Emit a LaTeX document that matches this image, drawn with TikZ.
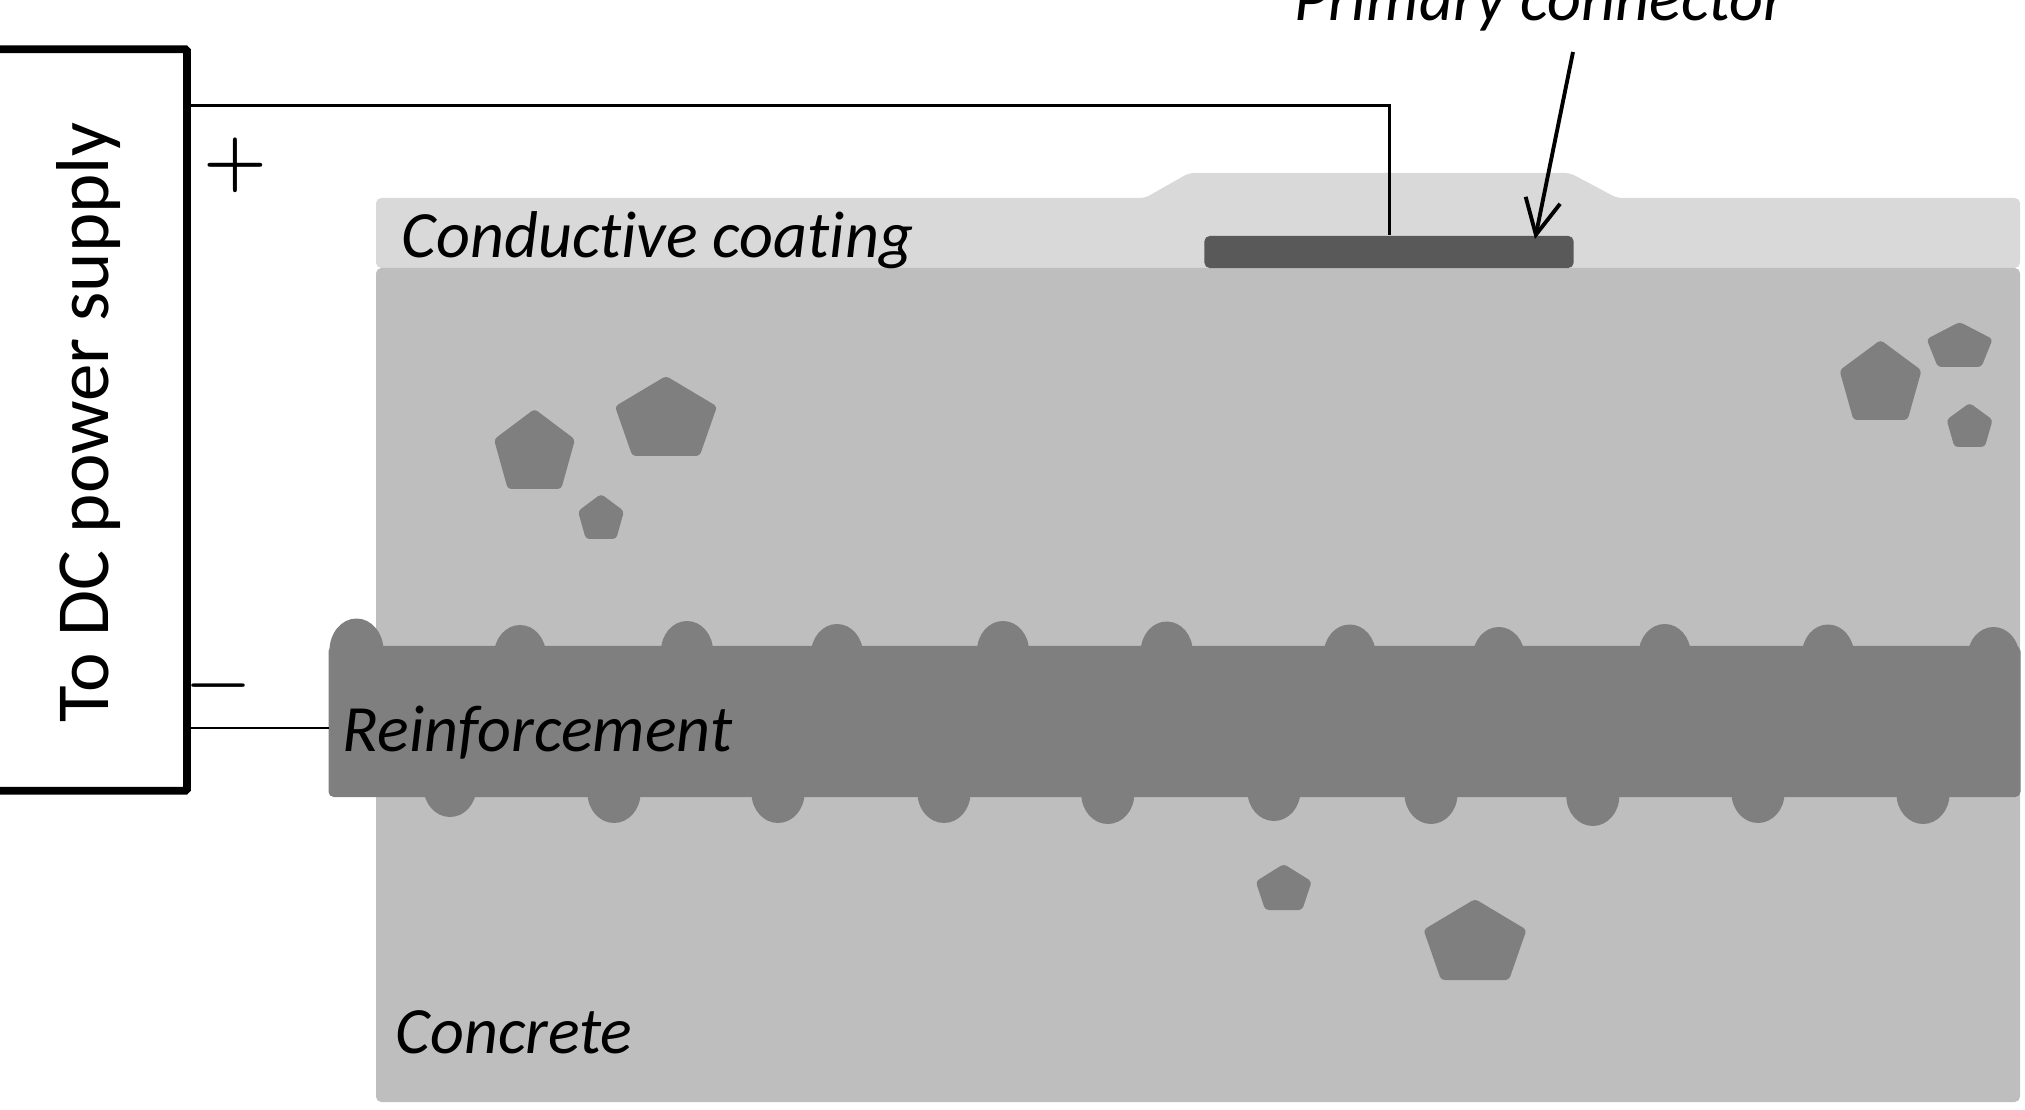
\documentclass[tikz,border=0pt]{standalone}
\usepackage{fontspec}
\setmainfont{Carlito}[Ligatures=NoCommon]
\usetikzlibrary{arrows.meta}
\definecolor{coatinggray}{HTML}{D9D9D9}
\definecolor{concretegray}{HTML}{BEBEBE}
\definecolor{steelgray}{HTML}{7F7F7F}
\definecolor{connectorgray}{HTML}{595959}
\tikzset{
	label/.style={font=\fontsize{18.8}{22}\selectfont\itshape, inner sep=0pt, anchor=base west},
	sign/.style={inner sep=0pt},
	wire/.style={draw=black, line width=0.85pt},
	pointer/.style={draw=black, line width=1.1pt, -{Straight Barb[length=10pt,width=10pt,line width=1.1pt]}},
	stone/.style={fill=steelgray, rounded corners=1pt},
}
\begin{document}
\begin{tikzpicture}[x=0.01cm,y=-0.01cm]
	\useasboundingbox (0,0) rectangle (2025,1110);
	% Coating and concrete
	\fill[coatinggray, rounded corners=1.5pt] (376,268) -- (376,198) -- (1145,198) -- (1189,173) -- (1570,173) -- (1617,198) -- (2020,198) -- (2020,268) -- cycle;
	\fill[concretegray, rounded corners=1.5pt] (376,268) rectangle (2020,1102);
	% Primary connector and reinforcement
	\node[fill=connectorgray, rounded corners=1.5pt, minimum width=3.69cm, minimum height=0.32cm, inner sep=0pt] (connector) at (1389,252) {};
	\node[fill=steelgray, rounded corners=1.5pt, minimum width=16.91cm, minimum height=1.51cm, inner sep=0pt] (rebar) at (1174.5,721.5) {};
	% Ribs above the bar
	\fill[steelgray] (356.5,650.5) ellipse [x radius=27, y radius=32];
	\foreach \rx/\ry in {520/625,687/621,837/624,1003/621,1166.7/621.5,1349.7/624.5,1498.7/627,1664.7/624,1828/624.5,1993.5/627}
		\fill[steelgray] (\rx,\ry+30) ellipse [x radius=26, y radius=30];
	% Ribs below the bar
	\foreach \rx/\ry in {450/817,614/823,778/823,944/823,1107.8/824,1273.9/821,1431/824,1592.8/826,1758/823,1923/824}
		\fill[steelgray] (\rx,\ry-30) ellipse [x radius=26.5, y radius=30];
	% Stones
	\foreach \px/\py/\pw/\ph in {534.5/409/81/80,666/376/102/80,601/494/46/45,1880.5/340/82/80,1959.6/322/66/45,1969.6/403/46/44,1283.7/864/56/46,1475/899/103/81}
		\fill[stone] (\px,\py) -- ++(0.5*\pw,0.38*\ph) -- ++(-0.17*\pw,0.62*\ph) -- ++(-0.66*\pw,0) -- ++(-0.17*\pw,-0.62*\ph) -- cycle;
	% Power supply
	\node[draw=black, line width=2.2pt, rounded corners=0.5pt, minimum width=2.87cm, minimum height=7.41cm, inner sep=0pt] (supply) at (43.5,420) {};
	\node[rotate=90, font=\fontsize{21.3}{25}\selectfont, inner sep=0pt, anchor=base west] (supplylabel) at (108.4,723) {To DC power supply};
	\node[sign, font=\fontsize{20}{24}\selectfont\boldmath] (plus) at (235,165) {$+$};
	\node[sign, font=\fontsize{23}{26}\selectfont] (minus) at (219,686) {$-$};
	% Wires
	\coordinate (plusout) at (187,106);
	\coordinate (minusin) at (329,728);
	\draw[wire] (plusout) -| (connector.north);
	\draw[wire] (supply.east |- minusin) -- (minusin);
	% Labels
	\node[label] (coatinglabel) at (401,258) {Conductive coating};
	\node[label] (rebarlabel) at (342,751) {Reinforcement};
	\node[label] (concretelabel) at (395,1053) {Concrete};
	\node[label] (connectorlabel) at (1294,21) {Primary connector};
	\coordinate (pointerstart) at (1573,52);
	\coordinate (pointerend) at (1535,239);
	\draw[pointer] (pointerstart) -- (pointerend);
\end{tikzpicture}
\end{document}
